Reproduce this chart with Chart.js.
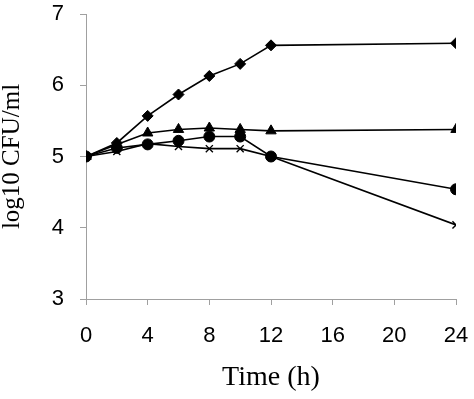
<!DOCTYPE html>
<html>
<head>
<meta charset="utf-8">
<script src="https://cdn.jsdelivr.net/npm/chart.js@4/dist/chart.umd.min.js"></script>
<style>
html,body{margin:0;padding:0;background:#fff;}
#wrap{width:474px;height:399px;}
</style>
</head>
<body>
<div id="wrap"><canvas id="c" width="474" height="399"></canvas></div>
<script>
const timeHours = [0, 2, 4, 6, 8, 10, 12, 24];
const seriesDiamond = [5.0, 5.19, 5.57, 5.87, 6.13, 6.30, 6.56, 6.59];
const seriesTriangle = [5.0, 5.17, 5.33, 5.38, 5.40, 5.38, 5.36, 5.38];
const seriesCircle = [5.0, 5.12, 5.17, 5.22, 5.28, 5.28, 5.0, 4.54];
const seriesCross = [5.0, 5.07, 5.18, 5.14, 5.11, 5.11, 5.0, 4.04];
const xTicks = [0, 4, 8, 12, 16, 20, 24];
const yTicks = [3, 4, 5, 6, 7];

function pts(vals){ return timeHours.map((t,i)=>({x:t,y:vals[i]})); }
function ds(label, vals, style, r){
  return {label, data: pts(vals), borderColor:'#000', backgroundColor:'#000',
    borderWidth:1.6, pointStyle:style, pointRadius:r, pointBorderWidth: style==='crossRot'?1.4:1,
    pointBorderColor:'#000', pointBackgroundColor:'#000', tension:0, fill:false};
}

new Chart(document.getElementById('c'), {
  type:'line',
  data:{datasets:[
    ds('diamond', seriesDiamond, 'rectRot', 5.5),
    ds('triangle', seriesTriangle, 'triangle', 6),
    ds('circle', seriesCircle, 'circle', 5.5),
    ds('cross', seriesCross, 'crossRot', 5)
  ]},
  options:{
    responsive:false, animation:false,
    layout:{padding:{left:0,right:18,top:14,bottom:0}},
    plugins:{legend:{display:false}, tooltip:{enabled:false}},
    scales:{
      x:{type:'linear', min:0, max:24,
        afterBuildTicks: s => { s.ticks = xTicks.map(v=>({value:v})); },
        afterFit: s => { s.height = 100; s.paddingLeft = 0; s.paddingRight = 0; },
        border:{display:true, color:'#a0a0a0', width:1},
        grid:{display:true, drawOnChartArea:false, drawTicks:true, tickLength:6, color:'#a0a0a0'},
        ticks:{color:'#000', padding:18, font:{family:'Liberation Sans', size:22}},
        title:{display:true, text:'Time (h)', color:'#000', padding:{top:0,bottom:7},
          font:{family:'Liberation Serif', size:28, lineHeight:1}}
      },
      y:{type:'linear', min:3, max:7,
        afterBuildTicks: s => { s.ticks = yTicks.map(v=>({value:v})); },
        afterFit: s => { s.width = 86; s.paddingTop = 0; s.paddingBottom = 0; },
        border:{display:true, color:'#a0a0a0', width:1},
        grid:{display:true, drawOnChartArea:false, drawTicks:true, tickLength:6, color:'#a0a0a0'},
        ticks:{color:'#000', padding:16, font:{family:'Liberation Sans', size:22}},
        title:{display:true, text:'log10 CFU/ml', color:'#000', padding:{top:0,bottom:0},
          font:{family:'Liberation Serif', size:25, lineHeight:1}}
      }
    }
  }
});
</script>
</body>
</html>
